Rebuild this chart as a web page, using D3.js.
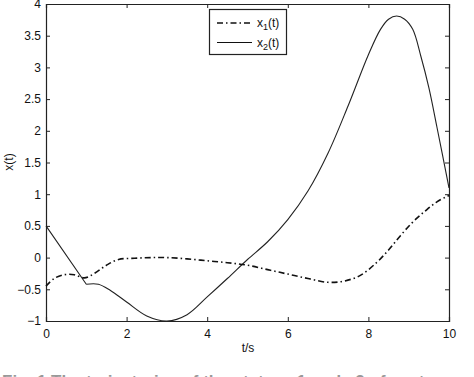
<!DOCTYPE html>
<html>
<head>
<meta charset="utf-8">
<script src="https://cdn.jsdelivr.net/npm/d3@7"></script>
<style>
  body { margin: 0; background: #fff; }
  text { font-family: "Liberation Sans", Arial, sans-serif; }
</style>
</head>
<body>
<svg id="chart" width="474" height="377"></svg>
<script>
// values
var x1T = [0, 0.2, 0.45, 0.7, 0.95, 1.2, 1.5, 1.8, 2.2, 2.6, 3.0, 3.5, 4.0, 4.5, 5.0, 5.5, 6.0, 6.5, 7.0, 7.4, 7.8, 8.2, 8.5, 8.8, 9.1, 9.4, 9.7, 10];
var x1V = [-0.45, -0.33, -0.27, -0.27, -0.32, -0.25, -0.12, -0.03, -0.01, 0.0, 0.0, -0.02, -0.05, -0.08, -0.12, -0.19, -0.26, -0.33, -0.39, -0.37, -0.28, -0.08, 0.12, 0.35, 0.56, 0.73, 0.88, 0.98];

// x2 has a sharp corner at t = 1
var x2T = [0, 1.0, 1.3, 1.6, 2.0, 2.5, 3.0, 3.5, 4.0, 4.5, 5.0, 5.5, 6.0, 6.5, 7.0, 7.5, 8.0, 8.3, 8.5, 8.7, 8.9, 9.1, 9.3, 9.5, 9.7, 10];
var x2V = [0.5, -0.42, -0.42, -0.52, -0.7, -0.92, -1.0, -0.9, -0.62, -0.33, -0.03, 0.25, 0.6, 1.05, 1.65, 2.4, 3.2, 3.6, 3.76, 3.81, 3.76, 3.6, 3.18, 2.68, 2.06, 1.1];

var xTicks = [0, 2, 4, 6, 8, 10];
var yTicks = [-1, -0.5, 0, 0.5, 1, 1.5, 2, 2.5, 3, 3.5, 4];
var legendNames = ["x1(t)", "x2(t)"];

var mLeft = 46, mRight = 449, mTop = 4, mBottom = 321;

var svg = d3.select("#chart");

var x = d3.scaleLinear().domain([0, 10]).range([mLeft, mRight]);
var y = d3.scaleLinear().domain([-1, 4]).range([mBottom, mTop]);

function fmt(d) { return d < 0 ? "\u2212" + Math.abs(d) : "" + d; }

// ticks pointing inward on all sides
svg.append("g").attr("transform", "translate(0," + mBottom + ")")
  .call(d3.axisBottom(x).tickValues(xTicks).tickSize(-4).tickPadding(8).tickFormat(fmt));
svg.append("g").attr("transform", "translate(0," + mTop + ")")
  .call(d3.axisTop(x).tickValues(xTicks).tickSize(-4).tickFormat(""));
svg.append("g").attr("transform", "translate(" + mLeft + ",0)")
  .call(d3.axisLeft(y).tickValues(yTicks).tickSize(-4).tickPadding(5).tickFormat(fmt));
svg.append("g").attr("transform", "translate(" + mRight + ",0)")
  .call(d3.axisRight(y).tickValues(yTicks).tickSize(-4).tickFormat(""));

svg.selectAll(".domain").attr("stroke", "#222").attr("stroke-width", 1.2);
svg.selectAll(".tick line").attr("stroke", "#222");
svg.selectAll(".tick text").attr("font-size", 12).attr("fill", "#111")
  .attr("font-family", "'Liberation Sans', Arial, sans-serif");

var smooth = d3.line()
  .x(function(d) { return x(d[0]); })
  .y(function(d) { return y(d[1]); })
  .curve(d3.curveCatmullRom.alpha(0.5));
var straight = d3.line()
  .x(function(d) { return x(d[0]); })
  .y(function(d) { return y(d[1]); });

var d1 = x1T.map(function(t, i) { return [t, x1V[i]]; });
var d2 = x2T.map(function(t, i) { return [t, x2V[i]]; });

// straight first piece, smooth from the corner on
svg.append("path").attr("d", straight(d2.slice(0, 2)) + smooth(d2.slice(1)))
  .attr("fill", "none").attr("stroke", "#222").attr("stroke-width", 1.1)
  .attr("stroke-linejoin", "miter");
svg.append("path").datum(d1).attr("d", smooth)
  .attr("fill", "none").attr("stroke", "#111").attr("stroke-width", 1.6)
  .attr("stroke-dasharray", "6,3,1.5,3");

// axis labels
svg.append("text").attr("x", 248).attr("y", 352).attr("text-anchor", "middle")
  .attr("font-size", 12).attr("fill", "#111").text("t/s");
svg.append("text").attr("transform", "translate(13,162) rotate(-90)")
  .attr("text-anchor", "middle").attr("font-size", 12).attr("fill", "#111").text("x(t)");

// legend
var lg = svg.append("g");
lg.append("rect").attr("x", 209.5).attr("y", 9.5).attr("width", 77).attr("height", 45)
  .attr("fill", "#fff").attr("stroke", "#222").attr("stroke-width", 1.2);
var styles = [{ w: 1.6, dash: "6,3,1.5,3" }, { w: 1.1, dash: null }];
legendNames.forEach(function(name, i) {
  var yy = 23 + i * 19.5;
  lg.append("line").attr("x1", 217).attr("x2", 252).attr("y1", yy).attr("y2", yy)
    .attr("stroke", "#111").attr("stroke-width", styles[i].w)
    .attr("stroke-dasharray", styles[i].dash);
  var t = lg.append("text").attr("x", 257).attr("y", yy + 4)
    .attr("font-size", 12).attr("fill", "#111");
  t.append("tspan").text(name.slice(0, 1));
  t.append("tspan").attr("dy", 3).attr("font-size", 9).text(name.slice(1, 2));
  t.append("tspan").attr("dy", -3).text(name.slice(2));
});

// figure caption, cut off by the picture edge
svg.append("text").attr("x", 2).attr("y", 387).attr("font-size", 17)
  .attr("font-weight", "bold").attr("fill", "#999")
  .text("Fig. 1 The trajectories of the states x1 and x2 of system");
</script>
</body>
</html>
